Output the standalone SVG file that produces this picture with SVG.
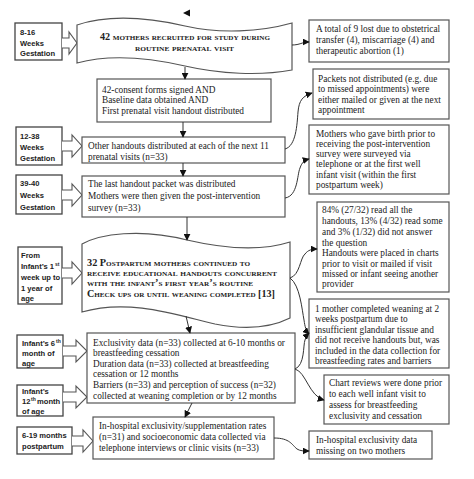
<svg xmlns="http://www.w3.org/2000/svg" width="474" height="479" viewBox="0 0 474 479">
<style>
.box{fill:#fff;stroke:#555;stroke-width:1.2}
.lbl{fill:#fff;stroke:#444;stroke-width:1.3}
.barr{fill:#fff;stroke:#555;stroke-width:1.1}
.t{font-family:"Liberation Serif","Times New Roman",serif;font-size:9.3px;fill:#222}
.b{font-family:"Liberation Serif","Times New Roman",serif;font-size:10px;font-weight:bold;font-variant:small-caps;fill:#222}
.l{font-family:"Liberation Sans",Arial,sans-serif;font-size:7.6px;font-weight:bold;fill:#222}
.sup{font-size:5px}
.c{fill:none;stroke:#333;stroke-width:1}
</style>
<defs>
<marker id="ah" viewBox="0 0 10 10" refX="9" refY="5" markerWidth="7" markerHeight="7" markerUnits="userSpaceOnUse" orient="auto">
<path d="M0,0 L10,5 L0,10 Z" fill="#111"/>
</marker>
</defs>
<rect width="474" height="479" fill="#fff"/>

<g id="stray-arrowhead"><polygon points="183,13 190,9.5 190,16.5" fill="#111"/></g>

<g id="lbl-8-16">
<rect class="lbl" x="15" y="23" width="47" height="37"/>
<path class="barr" d="M62,38 H69 V32 L77,43 L69,54 V48 H62"/>
<text class="l" x="20" y="35">8-16</text>
<text class="l" x="20" y="46">Weeks</text>
<text class="l" x="20" y="56">Gestation</text>
</g>

<g id="lbl-12-38">
<rect class="lbl" x="16" y="127" width="46" height="38"/>
<path class="barr" d="M62,141 H72 V135 L82,146 L72,157 V151 H62"/>
<text class="l" x="20" y="139">12-38</text>
<text class="l" x="20" y="150">Weeks</text>
<text class="l" x="20" y="161">Gestation</text>
</g>

<g id="lbl-39-40">
<rect class="lbl" x="16" y="175" width="46" height="39"/>
<path class="barr" d="M62,190 H72 V184 L82,195 L72,206 V200 H62"/>
<text class="l" x="20" y="186">39-40</text>
<text class="l" x="20" y="198">Weeks</text>
<text class="l" x="20" y="210">Gestation</text>
</g>

<g id="lbl-infant-1st">
<rect class="lbl" x="18" y="247" width="44" height="57"/>
<path class="barr" d="M62,268 H72 V262 L82,273 L72,284 V278 H62"/>
<text class="l" x="21" y="258">From</text>
<text class="l" x="21" y="269">Infant’s 1</text>
<text class="l sup" x="55" y="265.5">st</text>
<text class="l" x="21" y="280">week up to</text>
<text class="l" x="21" y="291">1 year of</text>
<text class="l" x="21" y="301">age</text>
</g>

<g id="lbl-6th">
<rect class="lbl" x="17" y="335" width="46" height="33"/>
<path class="barr" d="M63,346 H76 V340 L87,351 L76,362 V356 H63"/>
<text class="l" x="22" y="346">Infant’s 6</text>
<text class="l sup" x="56" y="342.5">th</text>
<text class="l" x="22" y="356">month of</text>
<text class="l" x="22" y="366">age</text>
</g>

<g id="lbl-12th">
<rect class="lbl" x="17" y="385" width="46" height="31"/>
<path class="barr" d="M63,392 H76 V386 L87,397 L76,408 V402 H63"/>
<text class="l" x="22" y="394">Infant’s</text>
<text class="l" x="22" y="404">12</text>
<text class="l sup" x="31" y="401">th</text>
<text class="l" x="37" y="404">month</text>
<text class="l" x="22" y="414">of  age</text>
</g>

<g id="lbl-6-19">
<rect class="lbl" x="17" y="427" width="55" height="27"/>
<path class="barr" d="M72,436 H83 V430 L93,441 L83,452 V446 H72"/>
<text class="l" x="22" y="438">6-19 months</text>
<text class="l" x="22" y="449">postpartum</text>
</g>

<g id="n-recruited">
<path class="box" d="M77,25 C110,14 150,18 185,26 C220,34 260,32 292,23 L292,70 C260,76 220,74 185,66 C150,58 110,54 77,63 Z"/>
<text class="b" x="100" y="40" textLength="170" lengthAdjust="spacingAndGlyphs">42 mothers recruited for study during</text>
<text class="b" x="135" y="51" textLength="99" lengthAdjust="spacingAndGlyphs">routine prenatal visit</text>
</g>

<g id="n-lost">
<rect class="box" x="309" y="20" width="140" height="42"/>
<text class="t" x="316" y="32">A total of 9 lost due to obstetrical</text>
<text class="t" x="316" y="43">transfer (4), miscarriage (4) and</text>
<text class="t" x="316" y="54">therapeutic abortion (1)</text>
</g>

<g id="n-consent">
<rect class="box" x="97" y="79" width="174" height="43"/>
<text class="t" x="102" y="93">42-consent forms signed AND</text>
<text class="t" x="102" y="103">Baseline data obtained AND</text>
<text class="t" x="102" y="114">First prenatal visit handout distributed</text>
</g>

<g id="n-packets">
<rect class="box" x="313" y="69" width="136" height="50"/>
<text class="t" x="318" y="82">Packets not distributed (e.g. due</text>
<text class="t" x="318" y="92">to missed appointments) were</text>
<text class="t" x="318" y="103">either mailed or given at the next</text>
<text class="t" x="318" y="113">appointment</text>
</g>

<g id="n-other">
<rect class="box" x="82" y="137" width="203" height="26"/>
<text class="t" x="88" y="149">Other handouts distributed at each of the next 11</text>
<text class="t" x="88" y="160">prenatal visits (n=33)</text>
</g>

<g id="n-last">
<rect class="box" x="82" y="176" width="203" height="41"/>
<text class="t" x="88" y="187">The last handout packet was distributed</text>
<text class="t" x="88" y="199">Mothers were then given the post-intervention</text>
<text class="t" x="88" y="211">survey (n=33)</text>
</g>

<g id="n-birth">
<rect class="box" x="309" y="125" width="140" height="69"/>
<text class="t" x="316" y="137">Mothers who gave birth prior to</text>
<text class="t" x="316" y="147">receiving the post-intervention</text>
<text class="t" x="316" y="157">survey were surveyed via</text>
<text class="t" x="316" y="167">telephone or at the first well</text>
<text class="t" x="316" y="178">infant visit (within the first</text>
<text class="t" x="316" y="188">postpartum week)</text>
</g>

<g id="n-read">
<rect class="box" x="317" y="202" width="132" height="90"/>
<text class="t" x="322" y="213">84% (27/32) read all the</text>
<text class="t" x="322" y="224">handouts, 13% (4/32) read some</text>
<text class="t" x="322" y="235">and 3% (1/32) did not answer</text>
<text class="t" x="322" y="246">the question</text>
<text class="t" x="322" y="256">Handouts were placed in charts</text>
<text class="t" x="322" y="267">prior to visit or mailed if visit</text>
<text class="t" x="322" y="277">missed or infant seeing another</text>
<text class="t" x="322" y="287">provider</text>
</g>

<g id="n-postpartum">
<path class="box" d="M82,244 C100,234 140,228 187,240 C230,250 265,250 290,242 L290,318 C270,328 245,330 215,324 C180,316 130,298 82,312 Z"/>
<text class="b" x="87" y="266" textLength="163" lengthAdjust="spacingAndGlyphs">32 Postpartum mothers continued to</text>
<text class="b" x="87" y="276" textLength="190" lengthAdjust="spacingAndGlyphs">receive educational handouts concurrent</text>
<text class="b" x="87" y="286" textLength="166" lengthAdjust="spacingAndGlyphs">with the infant’s first year’s routine</text>
<text class="b" x="87" y="297" textLength="188" lengthAdjust="spacingAndGlyphs">Check ups or until weaning completed [13]</text>
</g>

<g id="n-weaning">
<rect class="box" x="309" y="299" width="140" height="69"/>
<text class="t" x="315" y="312">1 mother completed weaning at 2</text>
<text class="t" x="315" y="322">weeks postpartum due to</text>
<text class="t" x="315" y="333">insufficient glandular tissue and</text>
<text class="t" x="315" y="343">did not receive handouts but, was</text>
<text class="t" x="315" y="354">included in the data collection for</text>
<text class="t" x="315" y="364">breastfeeding rates and barriers</text>
</g>

<g id="n-exclusivity">
<rect class="box" x="87" y="333" width="208" height="70"/>
<text class="t" x="93" y="346">Exclusivity data (n=33) collected at 6-10 months or</text>
<text class="t" x="93" y="356">breastfeeding cessation</text>
<text class="t" x="93" y="367">Duration data (n=33) collected at breastfeeding</text>
<text class="t" x="93" y="377">cessation or 12 months</text>
<text class="t" x="93" y="388">Barriers (n=33) and perception of success (n=32)</text>
<text class="t" x="93" y="399">collected at weaning completion or by 12 months</text>
</g>

<g id="n-chart">
<rect class="box" x="324" y="375" width="125" height="49"/>
<text class="t" x="329" y="386">Chart reviews were done prior</text>
<text class="t" x="329" y="397">to each well infant visit to</text>
<text class="t" x="329" y="408">assess for breastfeeding</text>
<text class="t" x="329" y="419">exclusivity and cessation</text>
</g>

<g id="n-inhospital">
<rect class="box" x="93" y="417" width="181" height="42"/>
<text class="t" x="99" y="429">In-hospital exclusivity/supplementation rates</text>
<text class="t" x="99" y="440">(n=31) and socioeconomic data collected via</text>
<text class="t" x="99" y="451">telephone interviews or clinic visits (n=33)</text>
</g>

<g id="n-missing">
<rect class="box" x="309" y="431" width="123" height="28"/>
<text class="t" x="316" y="443">In-hospital exclusivity data</text>
<text class="t" x="316" y="454">missing on two mothers</text>
</g>

<g id="connectors">
<path class="c" marker-end="url(#ah)" d="M292,45 C300,45 302,42 309,42"/>
<path class="c" marker-end="url(#ah)" d="M185,67 L185,79"/>
<path class="c" marker-end="url(#ah)" d="M183,122 L183,137"/>
<path class="c" marker-end="url(#ah)" d="M183,163 L183,176"/>
<path class="c" marker-end="url(#ah)" d="M187,217 L187,240"/>
<path class="c" marker-end="url(#ah)" d="M186,316 L190,333"/>
<path class="c" marker-end="url(#ah)" d="M192,403 L185,417"/>
<path class="c" marker-end="url(#ah)" d="M285,149 C296,146 297,125 298,112 C299,100 303,96 312,93"/>
<path class="c" marker-end="url(#ah)" d="M285,198 C298,196 297,175 300,168 C302,162 305,160 309,159"/>
<path class="c" marker-end="url(#ah)" d="M290,278 C300,275 300,258 305,254 C308,250 312,249 317,249"/>
<path class="c" marker-end="url(#ah)" d="M290,278 C300,285 302,310 304,320 C305,327 306,331 309,334"/>
<path class="c" marker-end="url(#ah)" d="M295,369 C305,365 303,345 305,340 C306,337 307,335 309,333"/>
<path class="c" marker-end="url(#ah)" d="M295,369 C306,372 309,396 324,400"/>
<path class="c" marker-end="url(#ah)" d="M274,438 C290,438 292,445 297,449 C300,451 304,451 309,451"/>
</g>
</svg>
